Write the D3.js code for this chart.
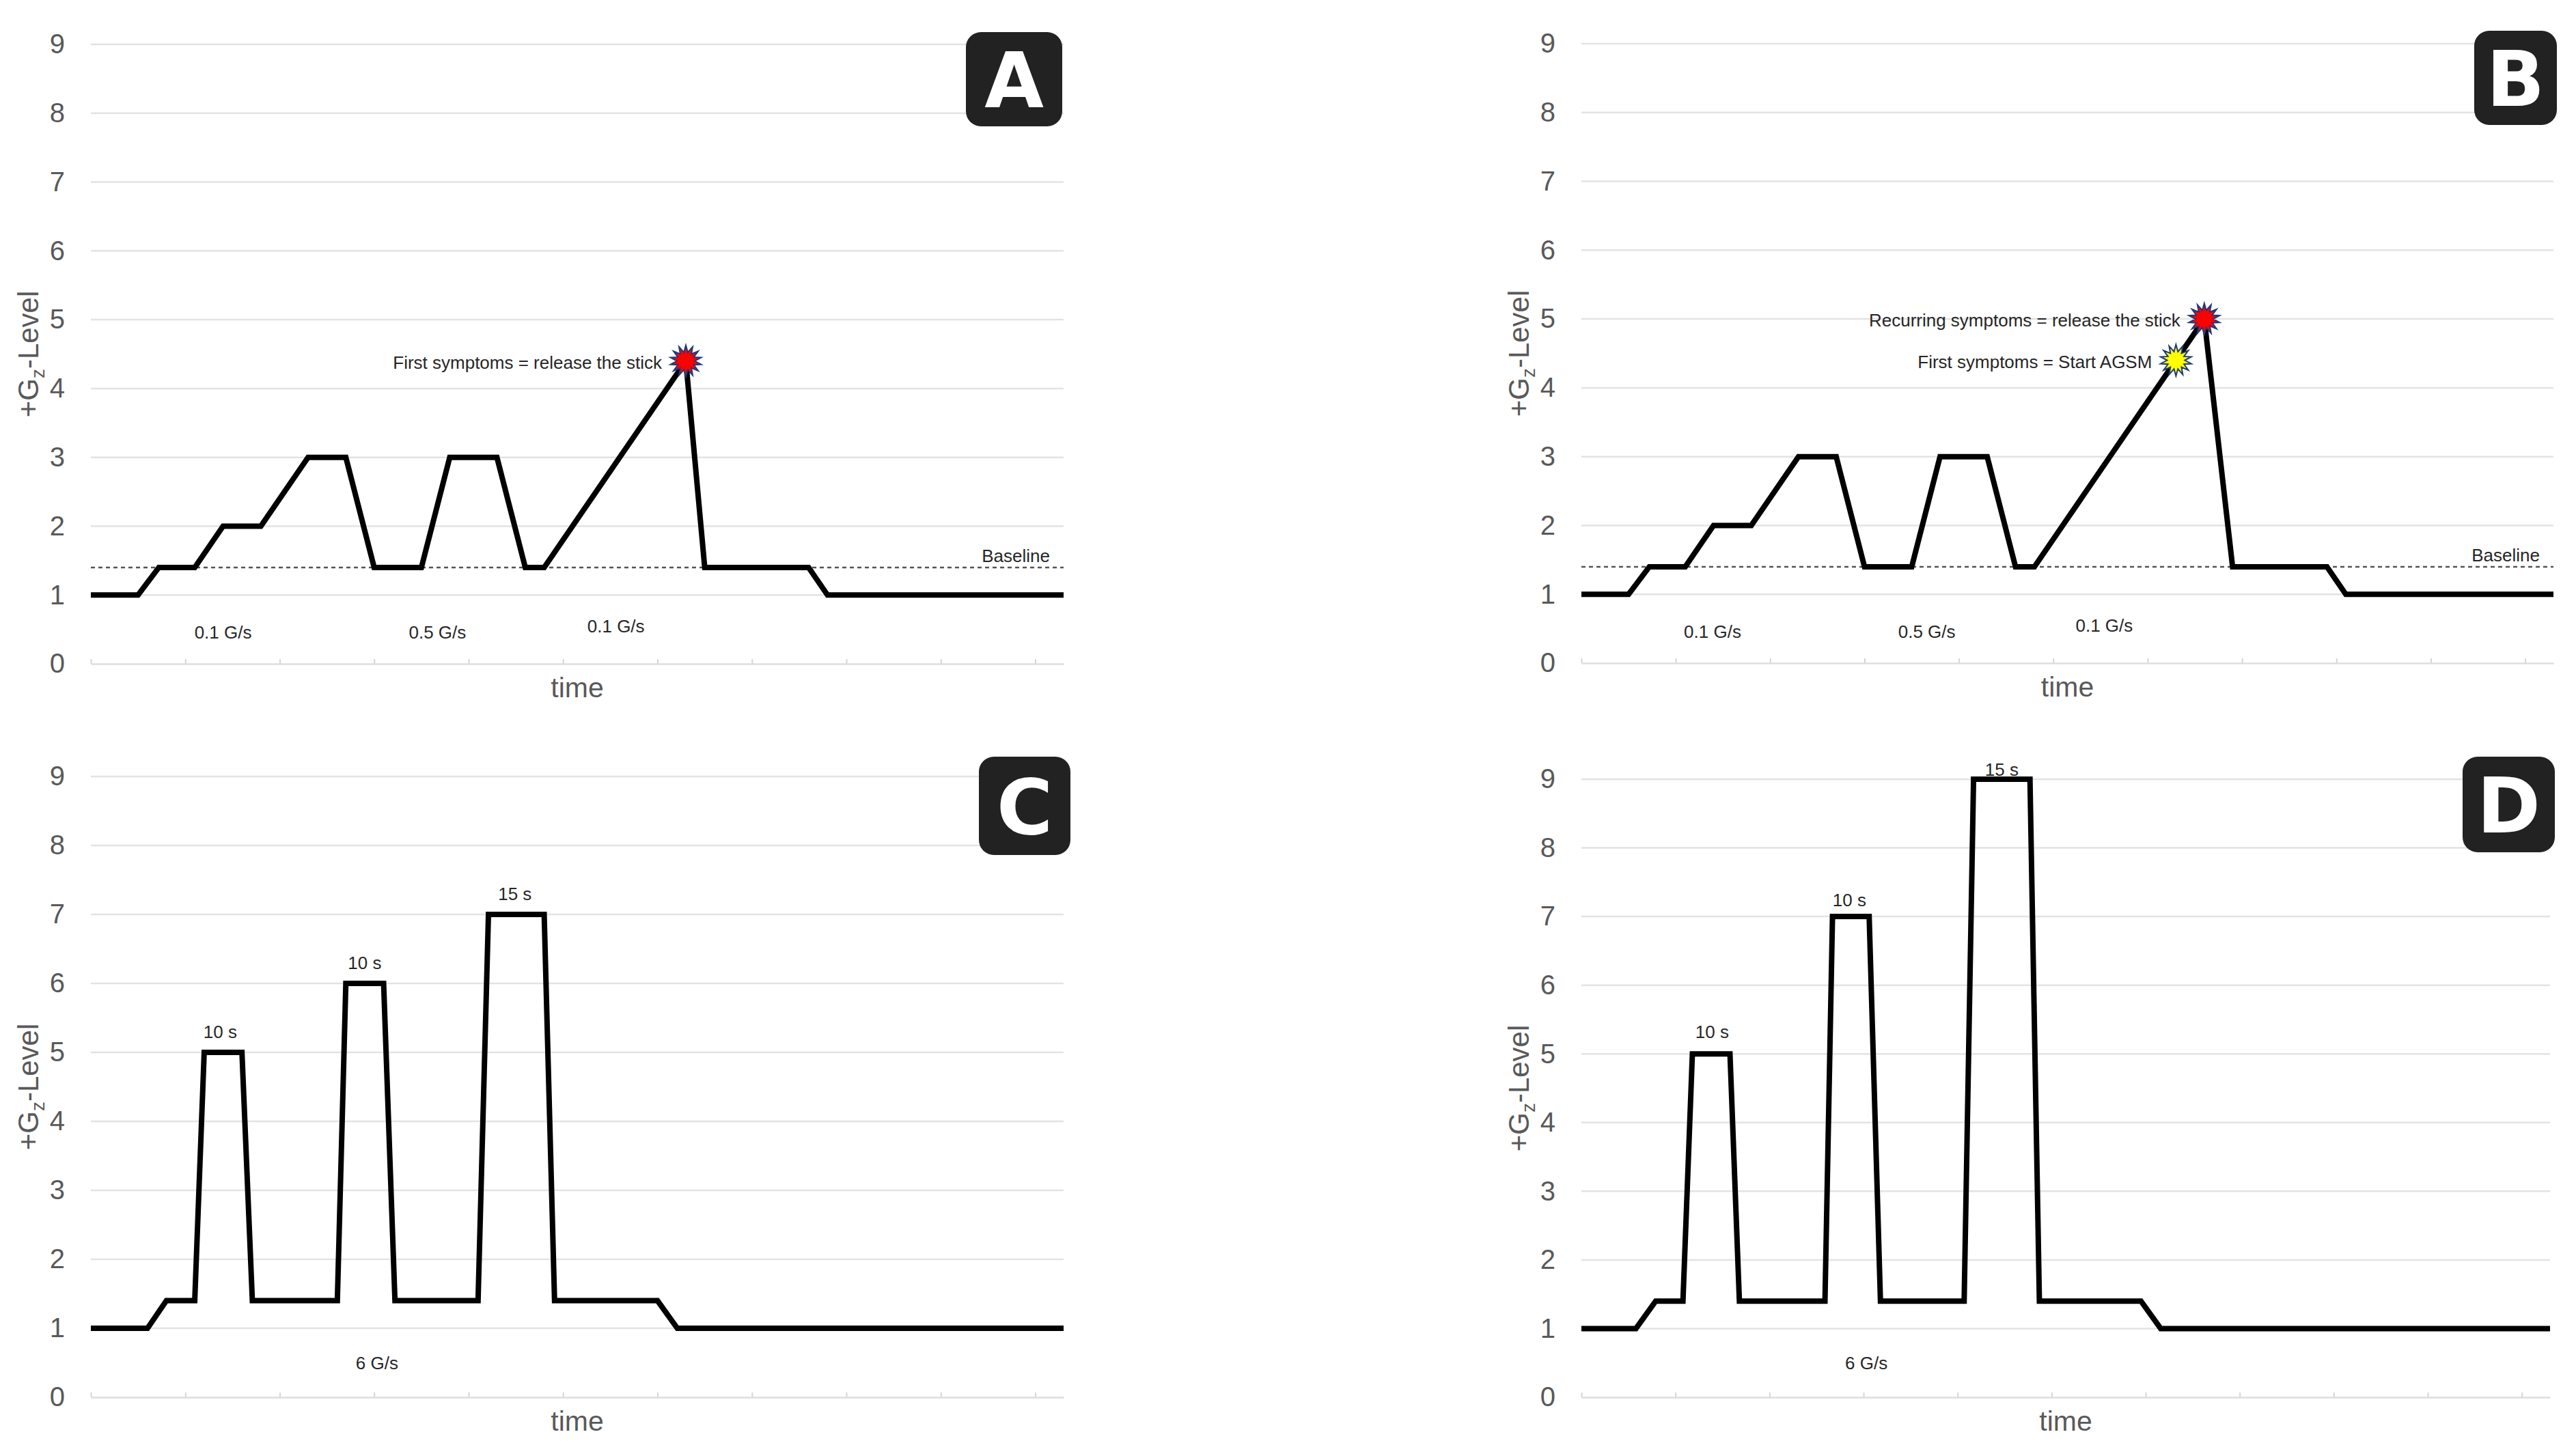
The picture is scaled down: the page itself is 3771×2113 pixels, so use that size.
<!DOCTYPE html>
<html><head><meta charset="utf-8">
<script src="https://cdn.jsdelivr.net/npm/d3@7"></script>
<style>html,body{margin:0;padding:0;background:#fff;} svg{display:block;}</style>
</head><body>
<svg id="chart" width="3771" height="2113"></svg>
<script>
// ---------- data ----------
const yTicks = [0, 1, 2, 3, 4, 5, 6, 7, 8, 9];
const xTicks = [0, 10, 20, 30, 40, 50, 60, 70, 80, 90, 100];
const xDomain = [0, 103];
const yDomain = [0, 9];
const baselineG = 1.4;

// Panel A profile
const timeA = [0, 5, 7.2, 11, 14, 18, 23, 27, 30, 35, 38, 43, 46, 48, 63, 65, 76, 78, 103];
const gzA   = [1, 1, 1.4, 1.4, 2, 2, 3, 3, 1.4, 1.4, 3, 3, 1.4, 1.4, 4.4, 1.4, 1.4, 1, 1];
// Panel B profile
const timeB = [0, 5, 7.2, 11, 14, 18, 23, 27, 30, 35, 38, 43, 46, 48, 66, 69, 79, 81, 103];
const gzB   = [1, 1, 1.4, 1.4, 2, 2, 3, 3, 1.4, 1.4, 3, 3, 1.4, 1.4, 5, 1.4, 1.4, 1, 1];
// Panel C profile
const timeC = [0, 6, 8, 11, 12, 16, 17.1, 26.1, 27, 31, 32.2, 41, 42.1, 48, 49.1, 60, 62.1, 103];
const gzC   = [1, 1, 1.4, 1.4, 5, 5, 1.4, 1.4, 6, 6, 1.4, 1.4, 7, 7, 1.4, 1.4, 1, 1];
// Panel D profile
const timeD = [0, 5.8, 7.9, 10.8, 11.8, 15.8, 16.8, 25.9, 26.7, 30.6, 31.8, 40.7, 41.7, 47.7, 48.7, 59.5, 61.6, 103];
const gzD   = [1, 1, 1.4, 1.4, 5, 5, 1.4, 1.4, 7, 7, 1.4, 1.4, 9, 9, 1.4, 1.4, 1, 1];

// Text annotations (time, G level at text centre, text)
const labelsA = [
  {t: 14.0, g: 0.46, text: "0.1 G/s"},
  {t: 36.7, g: 0.46, text: "0.5 G/s"},
  {t: 55.6, g: 0.55, text: "0.1 G/s"}
];
const labelsB = [
  {t: 13.9, g: 0.46, text: "0.1 G/s"},
  {t: 36.6, g: 0.46, text: "0.5 G/s"},
  {t: 55.4, g: 0.55, text: "0.1 G/s"}
];
const labelsC = [
  {t: 13.7, g: 5.30, text: "10 s"},
  {t: 29.0, g: 6.30, text: "10 s"},
  {t: 44.9, g: 7.30, text: "15 s"},
  {t: 30.3, g: 0.50, text: "6 G/s"}
];
const labelsD = [
  {t: 13.9, g: 5.32, text: "10 s"},
  {t: 28.5, g: 7.24, text: "10 s"},
  {t: 44.7, g: 9.14, text: "15 s"},
  {t: 30.3, g: 0.50, text: "6 G/s"}
];

// Symptom events (star markers)
const eventsA = [
  {t: 63, g: 4.4, color: "#ff0000", text: "First symptoms = release the stick"}
];
const eventsB = [
  {t: 66, g: 5.0, color: "#ff0000", text: "Recurring symptoms = release the stick"},
  {t: 63, g: 4.4, color: "#ffff00", text: "First symptoms = Start AGSM"}
];

// ---------- layout ----------
const layout = {
  A: {x0: 133,  x1: 1557, y9: 65,   y0: 972,  box: {x: 1414, y: 47,   w: 141, h: 138}, dashed: true},
  B: {x0: 2315, x1: 3738, y9: 64,   y0: 971,  box: {x: 3622, y: 45,   w: 121, h: 138}, dashed: true},
  C: {x0: 133,  x1: 1557, y9: 1137, y0: 2046, box: {x: 1433, y: 1108, w: 134, h: 144}, dashed: false},
  D: {x0: 2315, x1: 3733, y9: 1141, y0: 2046, box: {x: 3605, y: 1108, w: 135, h: 140}, dashed: false}
};

const panels = [
  {id: "A", time: timeA, gz: gzA, labels: labelsA, events: eventsA},
  {id: "B", time: timeB, gz: gzB, labels: labelsB, events: eventsB},
  {id: "C", time: timeC, gz: gzC, labels: labelsC, events: []},
  {id: "D", time: timeD, gz: gzD, labels: labelsD, events: []}
];

const FONT = "'Liberation Sans', Arial, Helvetica, sans-serif";
const svg = d3.select("#chart");
svg.append("rect").attr("width", 3771).attr("height", 2113).attr("fill", "#fff");

function starPath(n, rOut, rIn) {
  const pts = d3.range(n * 2).map(i => [i * Math.PI / n, i % 2 === 0 ? rOut : rIn]);
  return d3.lineRadial().angle(d => d[0]).radius(d => d[1]).curve(d3.curveLinearClosed)(pts);
}

panels.forEach(p => {
  const L = layout[p.id];
  const x = d3.scaleLinear().domain(xDomain).range([L.x0, L.x1]);
  const y = d3.scaleLinear().domain(yDomain).range([L.y0, L.y9]);
  const g = svg.append("g").attr("class", "panel-" + p.id);

  // gridlines
  g.append("g").selectAll("line").data(yTicks.filter(d => d > 0)).join("line")
    .attr("x1", L.x0).attr("x2", L.x1)
    .attr("y1", d => y(d)).attr("y2", d => y(d))
    .attr("stroke", "#e3e3e3").attr("stroke-width", 2.5);

  // x axis (inward ticks, no labels)
  const xa = g.append("g").attr("transform", `translate(0,${L.y0})`)
    .call(d3.axisBottom(x).tickValues(xTicks).tickSize(-7).tickSizeOuter(0).tickFormat(""));
  xa.select(".domain").attr("stroke", "#dedede").attr("stroke-width", 2.5);
  xa.selectAll(".tick line").attr("stroke", "#d6d6d6").attr("stroke-width", 2);

  // y axis labels
  const ya = g.append("g").attr("transform", `translate(${L.x0},0)`)
    .call(d3.axisLeft(y).tickValues(yTicks).tickSize(0).tickPadding(38).tickFormat(d3.format("d")));
  ya.select(".domain").remove();
  ya.selectAll("text").attr("font-family", FONT).attr("font-size", 40).attr("fill", "#595959");

  // y title
  const yt = g.append("text")
    .attr("transform", `translate(${L.x0 - 77},${(L.y0 + L.y9) / 2}) rotate(-90)`)
    .attr("text-anchor", "middle")
    .attr("font-family", FONT).attr("font-size", 42).attr("fill", "#595959");
  yt.append("tspan").text("+G");
  yt.append("tspan").attr("font-size", 28).attr("dy", 9).text("z");
  yt.append("tspan").attr("dy", -9).text("-Level");

  // x title
  g.append("text").attr("x", (L.x0 + L.x1) / 2).attr("y", L.y0 + 49)
    .attr("text-anchor", "middle").attr("font-family", FONT).attr("font-size", 41)
    .attr("fill", "#595959").text("time");

  // baseline dashed line
  if (L.dashed) {
    g.append("line").attr("x1", L.x0).attr("x2", L.x1)
      .attr("y1", y(baselineG)).attr("y2", y(baselineG))
      .attr("stroke", "#555").attr("stroke-width", 2.5).attr("stroke-dasharray", "6,5");
    g.append("text").attr("x", L.x1 - 20).attr("y", y(baselineG) - 8)
      .attr("text-anchor", "end").attr("font-family", FONT).attr("font-size", 26)
      .attr("fill", "#262626").text("Baseline");
  }

  // profile line
  const pts = p.time.map((t, i) => ({t, g: p.gz[i]}));
  g.append("path").datum(pts)
    .attr("d", d3.line().x(d => x(d.t)).y(d => y(d.g)))
    .attr("fill", "none").attr("stroke", "#000").attr("stroke-width", 8)
    .attr("stroke-linejoin", "miter").attr("stroke-miterlimit", 6);

  // text labels
  g.append("g").selectAll("text").data(p.labels).join("text")
    .attr("x", d => x(d.t)).attr("y", d => y(d.g)).attr("dy", "0.35em")
    .attr("text-anchor", "middle").attr("font-family", FONT).attr("font-size", 26)
    .attr("fill", "#262626").text(d => d.text);

  // events
  const ev = g.append("g").selectAll("g").data(p.events).join("g")
    .attr("transform", d => `translate(${x(d.t)},${y(d.g)})`);
  ev.append("path").attr("d", starPath(14, 23, 13))
    .attr("fill", d => d.color).attr("stroke", "#1f3a7a").attr("stroke-width", 2);
  ev.append("text").attr("x", -35).attr("y", 2).attr("dy", "0.35em")
    .attr("text-anchor", "end").attr("font-family", FONT).attr("font-size", 26)
    .attr("fill", "#262626").text(d => d.text);

  // panel letter box
  const b = L.box;
  g.append("rect").attr("x", b.x).attr("y", b.y).attr("width", b.w).attr("height", b.h)
    .attr("rx", 22).attr("fill", "#222");
  g.append("text").attr("x", b.x + b.w / 2).attr("y", b.y + b.h / 2 + 41)
    .attr("text-anchor", "middle").attr("font-family", "'DejaVu Sans', sans-serif")
    .attr("font-weight", "bold").attr("font-size", 112).attr("fill", "#fff").text(p.id);
});
</script>
</body></html>
